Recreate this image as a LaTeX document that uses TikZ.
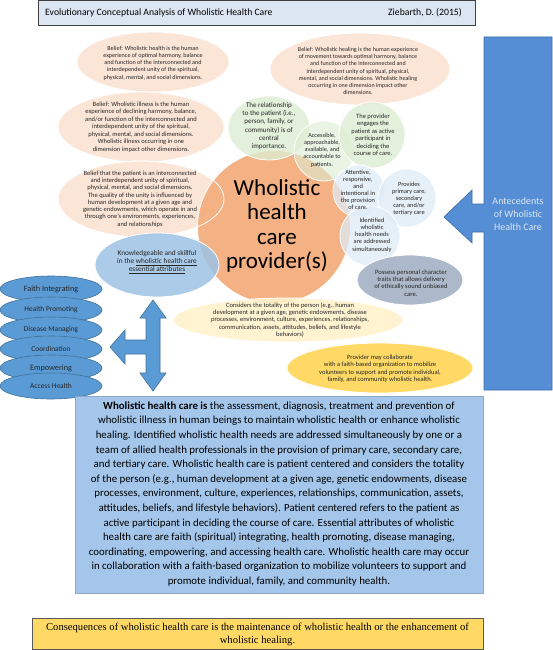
\documentclass[tikz,border=0pt]{standalone}
\usepackage{fontspec}
\setmainfont{Carlito}
\newfontfamily\timesf{Liberation Serif}
\usetikzlibrary{shapes.geometric}
\definecolor{salmon}{HTML}{FBE5D6}
\definecolor{provorange}{HTML}{F4B183}
\definecolor{palegreen}{HTML}{DDEDD2}
\definecolor{paleblue}{HTML}{DEEBF7}
\definecolor{slategray}{HTML}{ADB9CA}
\definecolor{knowblue}{HTML}{9DC3E6}
\definecolor{paleyellow}{HTML}{FFF2CC}
\definecolor{goldyellow}{HTML}{FFD966}
\definecolor{stackblue}{HTML}{5B9BD5}
\definecolor{stackedge}{HTML}{41719C}
\definecolor{arrowblue}{HTML}{558ED5}
\definecolor{arrowedge}{HTML}{3B6FA8}
\definecolor{maintext}{HTML}{A4C6EA}
\definecolor{titlefill}{HTML}{DCE6F2}
\definecolor{lavender}{HTML}{DCE6F2}
\tikzset{
  x=1pt, y=-1pt,
  blob/.style={ellipse, inner sep=0pt, draw=white, line width=0.8pt},
  tiny/.style={align=center, inner sep=0pt, text=black!85, font=\fontsize{6.1}{7.3}\selectfont},
  small/.style={align=center, inner sep=0pt, text=black!85, font=\fontsize{6.4}{7.3}\selectfont},
  stackell/.style={ellipse, inner sep=0pt, fill=stackblue, draw=stackedge, line width=0.6pt,
     minimum width=102pt, minimum height=26pt, text=black!85, font=\fontsize{7.4}{8}\selectfont},
}
\begin{document}
\begin{tikzpicture}
\useasboundingbox (0,0) rectangle (553,650);
\fill[white] (0,0) rectangle (553,650);

% title
\draw[draw=black!75, fill=titlefill, line width=0.8pt] (38,0.4) rectangle (475,25);
\node[anchor=west, inner sep=0pt, font=\fontsize{9.7}{11}\selectfont] (titletext) at (45,12.5) {Evolutionary Conceptual Analysis of Wholistic Health Care};
\node[anchor=east, inner sep=0pt, font=\fontsize{9.7}{11}\selectfont] (author) at (462,12.5) {Ziebarth, D. (2015)};

% right antecedents arrow
\draw[fill=arrowblue, draw=arrowedge, line width=0.6pt]
  (484,37) -- (552,37) -- (552,390) -- (484,390) -- (484,232) -- (472,232) -- (472,243)
  -- (444,217) -- (472,190) -- (472,204) -- (484,204) -- cycle;
\node[align=center, text=lavender, inner sep=0pt, font=\fontsize{10}{13.3}\selectfont] (ante) at (518,214) {Antecedents\\of Wholistic\\Health Care};

% salmon belief ellipses
\node[blob, fill=salmon, minimum width=152pt, minimum height=60pt] (e1) at (153,62) {};
\node[blob, fill=salmon, minimum width=180pt, minimum height=72pt] (e2) at (360,69) {};
\node[blob, fill=salmon, minimum width=166pt, minimum height=70pt] (e3) at (141,127) {};
\node[blob, fill=salmon, minimum width=166pt, minimum height=76pt] (e4) at (141,199) {};

% provider circle
\node[circle, inner sep=0pt, fill=provorange, draw=white, line width=0.8pt, minimum size=153pt] (prov) at (274,227) {};
\draw[white, line width=0.8pt] (e4.center) ellipse [x radius=83, y radius=38];

% green circles
\node[blob, fill=palegreen, fill opacity=0.8, minimum width=82pt, minimum height=64pt] (g1) at (269,128) {};
\node[blob, fill=palegreen, fill opacity=0.6, minimum size=60pt] (g2) at (324,151) {};
\node[blob, fill=palegreen, fill opacity=0.8, minimum size=66pt] (g3) at (372,135) {};

% pale blue circles
\node[blob, fill=paleblue, fill opacity=0.75, minimum size=52pt] (b1) at (359,191) {};
\node[blob, fill=paleblue, fill opacity=0.75, minimum size=58pt] (b2) at (407,198) {};
\node[blob, fill=paleblue, fill opacity=0.75, minimum size=60pt] (b3) at (370,236) {};

% gray ellipse
\node[blob, fill=slategray, minimum width=106pt, minimum height=50pt] (gr) at (410,280) {};

% knowledgeable ellipse
\node[blob, fill=knowblue, fill opacity=0.85, minimum width=124pt, minimum height=64pt] (kn) at (157,265) {};

% yellow ellipses
\node[blob, fill=paleyellow, fill opacity=0.9, minimum width=230pt, minimum height=44pt] (co) at (288,320) {};
\node[blob, fill=goldyellow, minimum width=186pt, minimum height=50pt] (pv) at (380,368) {};

% stack of attributes
\node[stackell, font=\fontsize{8.2}{9}\selectfont] (s1) at (51,289) {Faith Integrating};
\node[stackell] (s2) at (51,310) {Health Promoting};
\node[stackell] (s3) at (51,330) {Disease Managing};
\node[stackell] (s4) at (51,349) {Coordination};
\node[stackell, font=\fontsize{8.2}{9}\selectfont] (s5) at (51,368) {Empowering};
\node[stackell] (s6) at (51,386) {Access Health};

% three-way arrow
\draw[fill=stackblue, draw=stackedge, line width=0.6pt]
  (153,300) -- (166,318) -- (160,318) -- (160,373) -- (166,373) -- (153,391) -- (140,373)
  -- (146,373) -- (146,354) -- (125,354) -- (125,364) -- (110,347) -- (125,330) -- (125,340)
  -- (146,340) -- (146,318) -- (140,318) -- cycle;

% texts
\node[tiny] (t1) at (153,63) {Belief: Wholistic health is the human\\experience of optimal harmony, balance\\and function of the interconnected and\\interdependent unity of the spiritual,\\physical, mental, and social dimensions.};
\node[tiny, font=\fontsize{6}{7.3}\selectfont] (t2) at (358,71) {Belief: Wholistic healing is the human experience\\of movement towards optimal harmony, balance\\and function of the interconnected and\\interdependent unity of spiritual, physical,\\mental, and social dimensions. Wholistic healing\\occurring in one dimension impact other\\dimensions.};
\node[tiny, font=\fontsize{6.5}{7.5}\selectfont] (t3) at (141,127) {Belief: Wholistic illness is the human\\experience of declining harmony, balance,\\and/or function of the interconnected and\\interdependent unity of the spiritual,\\physical, mental, and social dimensions.\\Wholistic illness occurring in one\\dimension impact other dimensions.};
\node[tiny, font=\fontsize{6.5}{7.3}\selectfont] (t4) at (140,199) {Belief that the patient is an interconnected\\and interdependent unity of spiritual,\\physical, mental, and social dimensions.\\The quality of the unity is influenced by\\human development at a given age and\\genetic endowments, which operate in and\\through one's environments, experiences,\\and relationships};
\node[align=center, inner sep=0pt, font=\fontsize{23}{24.5}\selectfont] (pt) at (277,226) {Wholistic\\health\\care\\provider(s)};
\node[small, font=\fontsize{7}{8.3}\selectfont] (tg1) at (269,126) {The relationship\\to the patient (i.e.,\\person, family, or\\community) is of\\central\\importance.};
\node[small, font=\fontsize{6.2}{7.2}\selectfont] (tg2) at (322,150) {Accessible,\\approachable,\\available, and\\accountable to\\patients.};
\node[small, font=\fontsize{6.5}{7.5}\selectfont] (tg3) at (373,135) {The provider\\engages the\\patient as active\\participant in\\deciding the\\course of care.};
\node[tiny, font=\fontsize{6.4}{7}\selectfont] (tb1) at (358,190) {Attentive,\\responsive,\\and\\intentional in\\the provision\\of care.};
\node[tiny, font=\fontsize{6.3}{7}\selectfont] (tb2) at (409,199) {Provides\\primary care,\\secondary\\care, and/or\\tertiary care};
\node[tiny, font=\fontsize{6.4}{7.2}\selectfont] (tb3) at (372,235) {Identified\\wholistic\\health needs\\are addressed\\simultaneously};
\node[small, font=\fontsize{6.6}{7.2}\selectfont] (tgr) at (411,283) {Possess personal character\\traits that allows delivery\\of ethically sound unbiased\\care.};
\node[small, font=\fontsize{7.3}{8.3}\selectfont] (tkn) at (157,262) {Knowledgeable and skillful\\in the \underline{wholistic health care}\\\underline{essential attributes}};
\node[tiny, font=\fontsize{6.5}{7.3}\selectfont] (tco) at (290,320) {Considers the totality of the person (e.g., human\\development at a given age, genetic endowments, disease\\processes, environment, culture, experiences, relationships,\\communication, assets, attitudes, beliefs, and lifestyle\\behaviors)};
\node[tiny, font=\fontsize{6.5}{7.5}\selectfont] (tpv) at (380,369) {Provider may collaborate\\with a faith-based organization to mobilize\\volunteers to support and promote individual,\\family, and community wholistic health.};

% main definition box
\node[fill=maintext, draw=maintext!85!black, line width=0.4pt, minimum width=408pt, minimum height=197pt, inner sep=0pt] (mainbox) at (279,494.5) {};
\node[align=center, inner sep=0pt, font=\fontsize{10.85}{14.6}\selectfont] (maintxt) at (279,494) {\textbf{Wholistic health care is} the assessment, diagnosis, treatment and prevention of\\wholistic illness in human beings to maintain wholistic health or enhance wholistic\\healing. Identified wholistic health needs are addressed simultaneously by one or a\\team of allied health professionals in the provision of primary care, secondary care,\\and tertiary care. Wholistic health care is patient centered and considers the totality\\of the person (e.g., human development at a given age, genetic endowments, disease\\processes, environment, culture, experiences, relationships, communication, assets,\\attitudes, beliefs, and lifestyle behaviors). Patient centered refers to the patient as\\active participant in deciding the course of care. Essential attributes of wholistic\\health care are faith (spiritual) integrating, health promoting, disease managing,\\coordinating, empowering, and accessing health care. Wholistic health care may occur\\in collaboration with a faith-based organization to mobilize volunteers to support and\\promote individual, family, and community health.};

% consequences box
\node[fill=goldyellow, draw=black!65, line width=0.8pt, minimum width=451pt, minimum height=31pt, inner sep=0pt] (cons) at (257.5,633.5) {};
\node[align=center, inner sep=0pt, font=\timesf\fontsize{10.6}{13}\selectfont] (constxt) at (257.5,634) {Consequences of wholistic health care is the maintenance of wholistic health or the enhancement of\\wholistic healing.};
\end{tikzpicture}
\end{document}
